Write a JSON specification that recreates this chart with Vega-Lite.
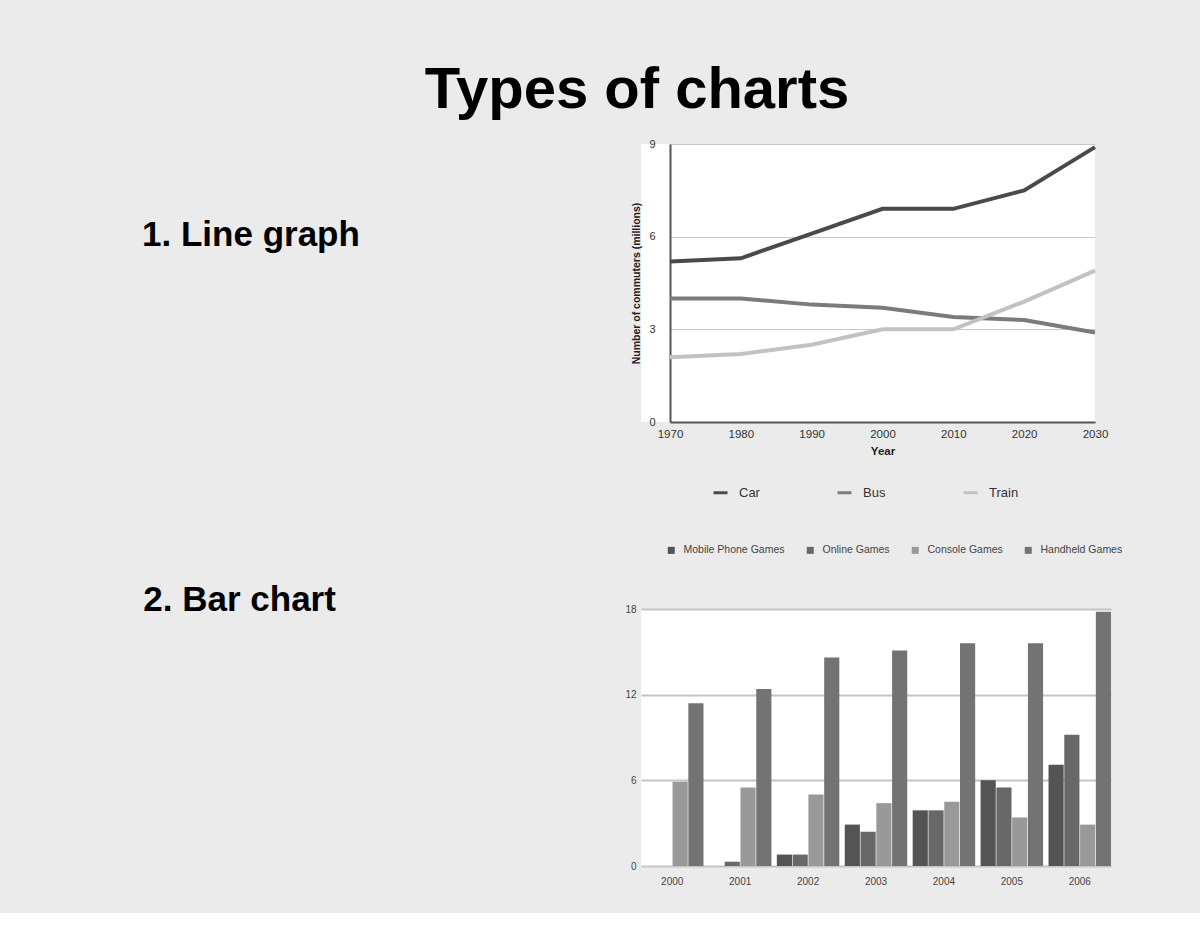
{
  "$schema": "https://vega.github.io/schema/vega-lite/v6.json",
  "background": "#ebebeb",
  "padding": {"left": 142, "top": 62, "right": 57, "bottom": 27},
  "title": {"text": "Types of charts", "font": "Liberation Sans", "fontSize": 58, "fontWeight": "bold", "color": "#000000", "anchor": "middle", "frame": "bounds", "offset": 18, "dx": -8},
  "spacing": -51,
  "resolve": {"scale": {"color": "independent"}, "legend": {"color": "independent"}},
  "config": {
    "font": "Liberation Sans",
    "view": {"stroke": null, "fill": "white"},
    "axis": {"labelColor": "#333333", "titleColor": "#222222", "gridColor": "#c8c8c8", "domainColor": "#555555", "labelFont": "Liberation Sans"},
    "legend": {"labelColor": "#333333", "labelFont": "Liberation Sans"}
  },
  "vconcat": [
    {
      "width": 454,
      "height": 278,
      "title": {"text": "1. Line graph", "orient": "left", "angle": 0, "align": "left", "baseline": "middle", "anchor": "middle", "dy": -48, "offset": 272, "font": "Liberation Sans", "fontSize": 35, "fontWeight": "bold", "color": "#000000"},
      "data": {"values": [
        {"year": 1970, "mode": "Car", "value": 5.2},
        {"year": 1980, "mode": "Car", "value": 5.3},
        {"year": 1990, "mode": "Car", "value": 6.1},
        {"year": 2000, "mode": "Car", "value": 6.9},
        {"year": 2010, "mode": "Car", "value": 6.9},
        {"year": 2020, "mode": "Car", "value": 7.5},
        {"year": 2030, "mode": "Car", "value": 8.9},
        {"year": 1970, "mode": "Bus", "value": 4.0},
        {"year": 1980, "mode": "Bus", "value": 4.0},
        {"year": 1990, "mode": "Bus", "value": 3.8},
        {"year": 2000, "mode": "Bus", "value": 3.7},
        {"year": 2010, "mode": "Bus", "value": 3.4},
        {"year": 2020, "mode": "Bus", "value": 3.3},
        {"year": 2030, "mode": "Bus", "value": 2.9},
        {"year": 1970, "mode": "Train", "value": 2.1},
        {"year": 1980, "mode": "Train", "value": 2.2},
        {"year": 1990, "mode": "Train", "value": 2.5},
        {"year": 2000, "mode": "Train", "value": 3.0},
        {"year": 2010, "mode": "Train", "value": 3.0},
        {"year": 2020, "mode": "Train", "value": 3.9},
        {"year": 2030, "mode": "Train", "value": 4.9}
      ]},
      "mark": {"type": "line", "strokeWidth": 4},
      "encoding": {
        "x": {"field": "year", "type": "quantitative", "scale": {"domain": [1970, 2030], "nice": false, "range": [29, 454]},
              "axis": {"values": [1970, 1980, 1990, 2000, 2010, 2020, 2030], "format": "d", "title": "Year", "titleFontSize": 11.5, "titleFontWeight": "bold", "titlePadding": 6, "labelFontSize": 11.5, "labelPadding": 6, "ticks": false, "grid": false, "domainWidth": 2, "labelFlush": false}},
        "y": {"field": "value", "type": "quantitative", "scale": {"domain": [0, 9], "nice": false},
              "axis": {"values": [0, 3, 6, 9], "offset": -29, "title": "Number of commuters (millions)", "titleFontSize": 10.5, "titleFontWeight": "bold", "titlePadding": 7, "labelFontSize": 11, "labelPadding": 15, "ticks": false, "grid": true, "gridWidth": 1.2, "domainWidth": 2}},
        "color": {"field": "mode", "type": "nominal", "scale": {"domain": ["Car", "Bus", "Train"], "range": ["#4a4a4a", "#7b7b7b", "#c2c2c2"]},
                  "legend": {"orient": "bottom", "direction": "horizontal", "title": null, "symbolType": "stroke", "symbolSize": 196, "symbolStrokeWidth": 3, "labelFontSize": 13, "labelOffset": 10, "columnPadding": 71, "padding": 71, "offset": -44}}
      }
    },
    {
      "width": 470,
      "height": 257,
      "title": {"text": "2. Bar chart", "orient": "left", "angle": 0, "align": "left", "baseline": "middle", "anchor": "middle", "dy": -138, "offset": 289, "font": "Liberation Sans", "fontSize": 35, "fontWeight": "bold", "color": "#000000"},
      "data": {"values": [
        {"year": "2000", "type": "Mobile Phone Games", "value": 0},
        {"year": "2000", "type": "Online Games", "value": 0},
        {"year": "2000", "type": "Console Games", "value": 5.9},
        {"year": "2000", "type": "Handheld Games", "value": 11.4},
        {"year": "2001", "type": "Mobile Phone Games", "value": 0},
        {"year": "2001", "type": "Online Games", "value": 0.3},
        {"year": "2001", "type": "Console Games", "value": 5.5},
        {"year": "2001", "type": "Handheld Games", "value": 12.4},
        {"year": "2002", "type": "Mobile Phone Games", "value": 0.8},
        {"year": "2002", "type": "Online Games", "value": 0.8},
        {"year": "2002", "type": "Console Games", "value": 5.0},
        {"year": "2002", "type": "Handheld Games", "value": 14.6},
        {"year": "2003", "type": "Mobile Phone Games", "value": 2.9},
        {"year": "2003", "type": "Online Games", "value": 2.4},
        {"year": "2003", "type": "Console Games", "value": 4.4},
        {"year": "2003", "type": "Handheld Games", "value": 15.1},
        {"year": "2004", "type": "Mobile Phone Games", "value": 3.9},
        {"year": "2004", "type": "Online Games", "value": 3.9},
        {"year": "2004", "type": "Console Games", "value": 4.5},
        {"year": "2004", "type": "Handheld Games", "value": 15.6},
        {"year": "2005", "type": "Mobile Phone Games", "value": 6.0},
        {"year": "2005", "type": "Online Games", "value": 5.5},
        {"year": "2005", "type": "Console Games", "value": 3.4},
        {"year": "2005", "type": "Handheld Games", "value": 15.6},
        {"year": "2006", "type": "Mobile Phone Games", "value": 7.1},
        {"year": "2006", "type": "Online Games", "value": 9.2},
        {"year": "2006", "type": "Console Games", "value": 2.9},
        {"year": "2006", "type": "Handheld Games", "value": 17.8}
      ]},
      "mark": {"type": "bar"},
      "encoding": {
        "x": {"field": "year", "type": "nominal", "scale": {"paddingInner": 0.08, "paddingOuter": 0},
              "axis": {"title": null, "labelAngle": 0, "ticks": false, "domain": false, "labelPadding": 10, "labelFontSize": 10, "labelColor": "#444444"}},
        "xOffset": {"field": "type", "type": "nominal", "scale": {"domain": ["Mobile Phone Games", "Online Games", "Console Games", "Handheld Games"], "paddingInner": 0.04}},
        "y": {"field": "value", "type": "quantitative", "scale": {"domain": [0, 18], "nice": false},
              "axis": {"values": [0, 6, 12, 18], "title": null, "grid": true, "gridWidth": 2, "gridColor": "#c4c4c4", "domain": false, "ticks": false, "labelPadding": 5, "labelFontSize": 10, "labelColor": "#444444"}},
        "color": {"field": "type", "type": "nominal", "scale": {"domain": ["Mobile Phone Games", "Online Games", "Console Games", "Handheld Games"], "range": ["#545454", "#686868", "#999999", "#737373"]},
                  "legend": {"orient": "top", "direction": "horizontal", "title": null, "symbolType": "square", "symbolSize": 49, "labelFontSize": 10.5, "labelOffset": 7, "columnPadding": 20, "padding": 25, "offset": 28, "labelColor": "#444444"}}
      }
    }
  ]
}
